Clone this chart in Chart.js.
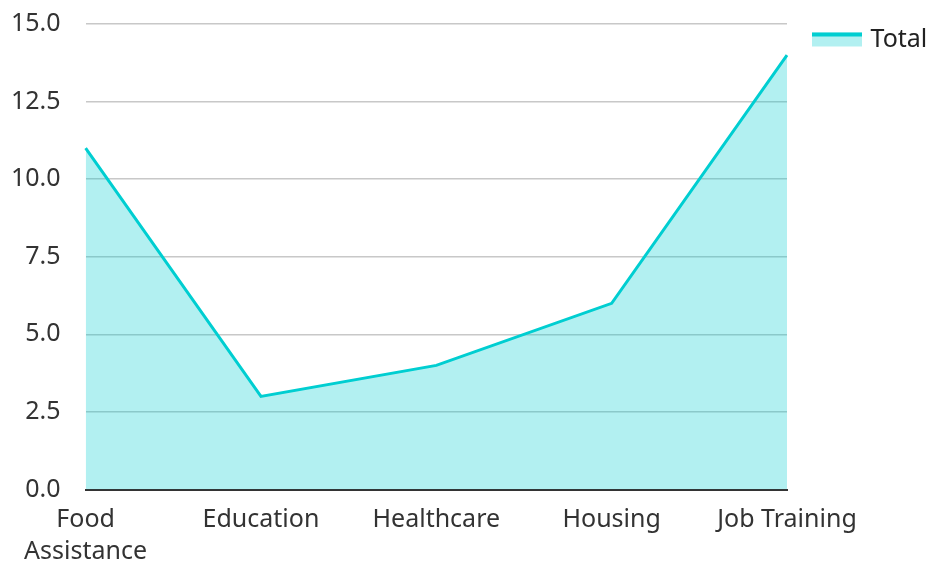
<!DOCTYPE html>
<html>
<head>
<meta charset="utf-8">
<script src="https://cdn.jsdelivr.net/npm/chart.js@4"></script>
<style>
html,body{margin:0;padding:0;background:#fff;}
#wrap{width:928px;height:563px;}
</style>
</head>
<body>
<div id="wrap"><canvas id="c" width="928" height="563"></canvas></div>
<script>
const categories = [["Food", "Assistance"], "Education", "Healthcare", "Housing", "Job Training"];
const totalValues = [11, 3, 4, 6, 14];
const seriesName = "Total";

Chart.defaults.font.family = "'Noto Sans', 'Open Sans', sans-serif";
Chart.defaults.font.size = 25;
Chart.defaults.color = "#333333";

const LINE = '#00CED1';
const FILL = 'rgba(0,206,209,0.3)';
const LEGEND_SWATCH_W = 50;

const legendSwatchPlugin = {
  id: 'legendSwatch',
  afterDraw(chart) {
    const lg = chart.legend;
    if (!lg || !lg.legendHitBoxes) return;
    const ctx = chart.ctx;
    lg.legendHitBoxes.forEach(hb => {
      const bh = lg.options.labels.boxHeight;
      const y = hb.top + (hb.height - bh) / 2;
      ctx.save();
      ctx.fillStyle = FILL;
      ctx.fillRect(hb.left, y, LEGEND_SWATCH_W, bh);
      ctx.fillStyle = LINE;
      ctx.fillRect(hb.left, y, LEGEND_SWATCH_W, 4);
      ctx.restore();
    });
  }
};

new Chart(document.getElementById('c'), {
  type: 'line',
  data: {
    labels: categories,
    datasets: [{
      label: seriesName,
      data: totalValues,
      borderColor: LINE,
      backgroundColor: FILL,
      borderWidth: 3,
      fill: true,
      tension: 0,
      pointRadius: 0,
      pointHoverRadius: 0
    }]
  },
  plugins: [legendSwatchPlugin],
  options: {
    responsive: false,
    animation: false,
    layout: {padding: {left: 2, right: 0, top: 2, bottom: -19}},
    plugins: {
      legend: {
        position: 'right',
        align: 'start',
        maxWidth: 141,
        labels: {
          boxWidth: 46, boxHeight: 14, padding: 25, color: '#222',
          generateLabels(chart) {
            const items = Chart.defaults.plugins.legend.labels.generateLabels(chart);
            items.forEach(it => { it.lineWidth = 0; it.fillStyle = 'rgba(0,0,0,0)'; });
            return items;
          }
        }
      },
      tooltip: {enabled: false}
    },
    scales: {
      x: {
        grid: {display: false, drawTicks: false},
        border: {display: true, color: '#333', width: 2},
        ticks: {maxRotation: 0, autoSkip: false, padding: 15, font: {lineHeight: 1.25}}
      },
      y: {
        min: 0, max: 15,
        ticks: {stepSize: 2.5, callback: v => v.toFixed(1), padding: 9},
        grid: {color: '#c8c8c8', lineWidth: 1.5, drawTicks: true, tickLength: 16, tickColor: 'rgba(0,0,0,0)'},
        border: {display: false}
      }
    }
  }
});
</script>
</body>
</html>
